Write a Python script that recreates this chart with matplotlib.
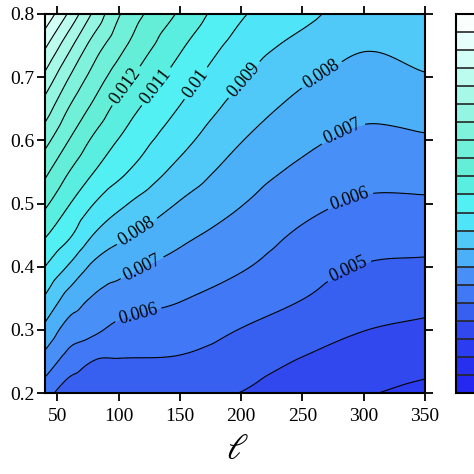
import numpy as np
import matplotlib
matplotlib.use("Agg")
import matplotlib.pyplot as plt
import matplotlib.tri as mtri
from matplotlib.colors import ListedColormap, BoundaryNorm

# --- DATA ---
# grid of the field: columns = ell, rows = eta
ell = [40, 60, 80, 100, 150, 200, 250, 300, 350]
eta = [0.20, 0.25, 0.30, 0.35, 0.40, 0.45, 0.50, 0.55, 0.60, 0.65, 0.70, 0.75, 0.80]

row_020 = [0.00542, 0.00441, 0.00420, 0.00402, 0.00429, 0.00398, 0.00337, 0.00308, 0.00277]
row_025 = [0.00658, 0.00555, 0.00497, 0.00492, 0.00488, 0.00448, 0.00392, 0.00355, 0.00329]
row_030 = [0.00773, 0.00656, 0.00620, 0.00574, 0.00548, 0.00497, 0.00448, 0.00402, 0.00380]
row_035 = [0.00888, 0.00760, 0.00690, 0.00653, 0.00607, 0.00554, 0.00502, 0.00449, 0.00432]
row_040 = [0.01000, 0.00887, 0.00778, 0.00735, 0.00664, 0.00610, 0.00544, 0.00495, 0.00484]
row_045 = [0.01111, 0.01013, 0.00895, 0.00825, 0.00725, 0.00657, 0.00585, 0.00542, 0.00535]
row_050 = [0.01220, 0.01104, 0.01000, 0.00924, 0.00793, 0.00705, 0.00630, 0.00588, 0.00586]
row_055 = [0.01322, 0.01198, 0.01100, 0.01025, 0.00868, 0.00754, 0.00678, 0.00633, 0.00637]
row_060 = [0.01433, 0.01296, 0.01181, 0.01096, 0.00935, 0.00804, 0.00724, 0.00678, 0.00688]
row_065 = [0.01550, 0.01392, 0.01273, 0.01167, 0.00994, 0.00857, 0.00769, 0.00722, 0.00740]
row_070 = [0.01675, 0.01498, 0.01360, 0.01251, 0.01054, 0.00910, 0.00816, 0.00765, 0.00792]
row_075 = [0.01817, 0.01626, 0.01454, 0.01335, 0.01117, 0.00960, 0.00870, 0.00809, 0.00844]
row_080 = [0.01980, 0.01780, 0.01580, 0.01410, 0.01186, 0.01012, 0.00928, 0.00855, 0.00896]

# contour levels, 0 ... 0.021 in steps of 0.001
levels = [0.000, 0.001, 0.002, 0.003, 0.004, 0.005, 0.006, 0.007, 0.008, 0.009, 0.010,
          0.011, 0.012, 0.013, 0.014, 0.015, 0.016, 0.017, 0.018, 0.019, 0.020, 0.021]

# one colour per band, bottom -> top
band_colors = ['#2428f0', '#2830f0', '#2c3cf0', '#3048ee', '#3860f0', '#4078f5', '#4890f8',
               '#4cb0f8', '#50c8f8', '#50e4f8', '#52f0f2', '#5aeee0', '#64eed8', '#70f0d8',
               '#80f2dc', '#94f6e2', '#a8f8e8', '#bcfcef', '#d2fff6', '#e6fffb', '#fafffe']

# labelled lines and where their labels sit
label_levels = [0.005, 0.006, 0.007, 0.008, 0.009, 0.010, 0.011, 0.012]
label_spots = [(289, 0.39), (116, 0.324), (290, 0.50), (120, 0.395), (283, 0.612),
               (116, 0.453), (267, 0.70), (203, 0.695), (164, 0.689), (131, 0.685), (105, 0.688)]

# --- STYLE ---
plt.rcParams['font.family'] = ['Liberation Serif', 'DejaVu Serif']
plt.rcParams['mathtext.fontset'] = 'stix'

fig = plt.figure(figsize=(4.74, 4.74), dpi=100)
ax = fig.add_axes([45 / 474, 81 / 474, 380 / 474, 379 / 474])
cax = fig.add_axes([456 / 474, 81 / 474, 32 / 474, 379 / 474])

X, Y = np.meshgrid(ell, eta)
Z = np.array([row_020, row_025, row_030, row_035, row_040, row_045, row_050,
              row_055, row_060, row_065, row_070, row_075, row_080])

# smooth the coarse grid (cubic interpolation on a triangulation, in unit coords)
xs = (X.ravel() - 40) / 310
ys = (Y.ravel() - 0.2) / 0.6
tri = mtri.Triangulation(xs, ys)
interp = mtri.CubicTriInterpolator(tri, Z.ravel(), kind='geom')
fx = np.linspace(0, 1, 311)
fy = np.linspace(0, 1, 241)
FX, FY = np.meshgrid(fx, fy)
FZ = interp(FX, FY)
PX = 40 + FX * 310
PY = 0.2 + FY * 0.6

cmap = ListedColormap(band_colors)
norm = BoundaryNorm(levels, cmap.N)
cf = ax.contourf(PX, PY, FZ, levels=levels, cmap=cmap, norm=norm)

plain_levels = [lv for lv in levels if lv not in label_levels]
ax.contour(PX, PY, FZ, levels=plain_levels, colors='k', linewidths=0.8)
cs = ax.contour(PX, PY, FZ, levels=label_levels, colors='k', linewidths=0.8)
ax.clabel(cs, manual=label_spots, fmt=lambda v: f"{v:g}", fontsize=13,
          inline=True, inline_spacing=4)

ax.set_xlim(40, 350)
ax.set_ylim(0.2, 0.8)
ax.set_xticks([50, 100, 150, 200, 250, 300, 350])
ax.set_yticks([0.2, 0.3, 0.4, 0.5, 0.6, 0.7, 0.8])
ax.tick_params(direction='out', top=True, right=True, length=5.5, width=1.3,
               labelsize=14, pad=2)
ax.tick_params(axis='x', pad=5)
for sp in ax.spines.values():
    sp.set_linewidth(1.5)

fig.text(237 / 474, 1 - 450 / 474, r'$\ell$', ha='center', va='center', fontsize=26)

cb = fig.colorbar(cf, cax=cax, drawedges=True)
cb.set_ticks([])
cb.outline.set_linewidth(1.5)
cb.dividers.set_color('0.15')
cb.dividers.set_linewidth(1.2)

fig.savefig("out.png", dpi=100)
